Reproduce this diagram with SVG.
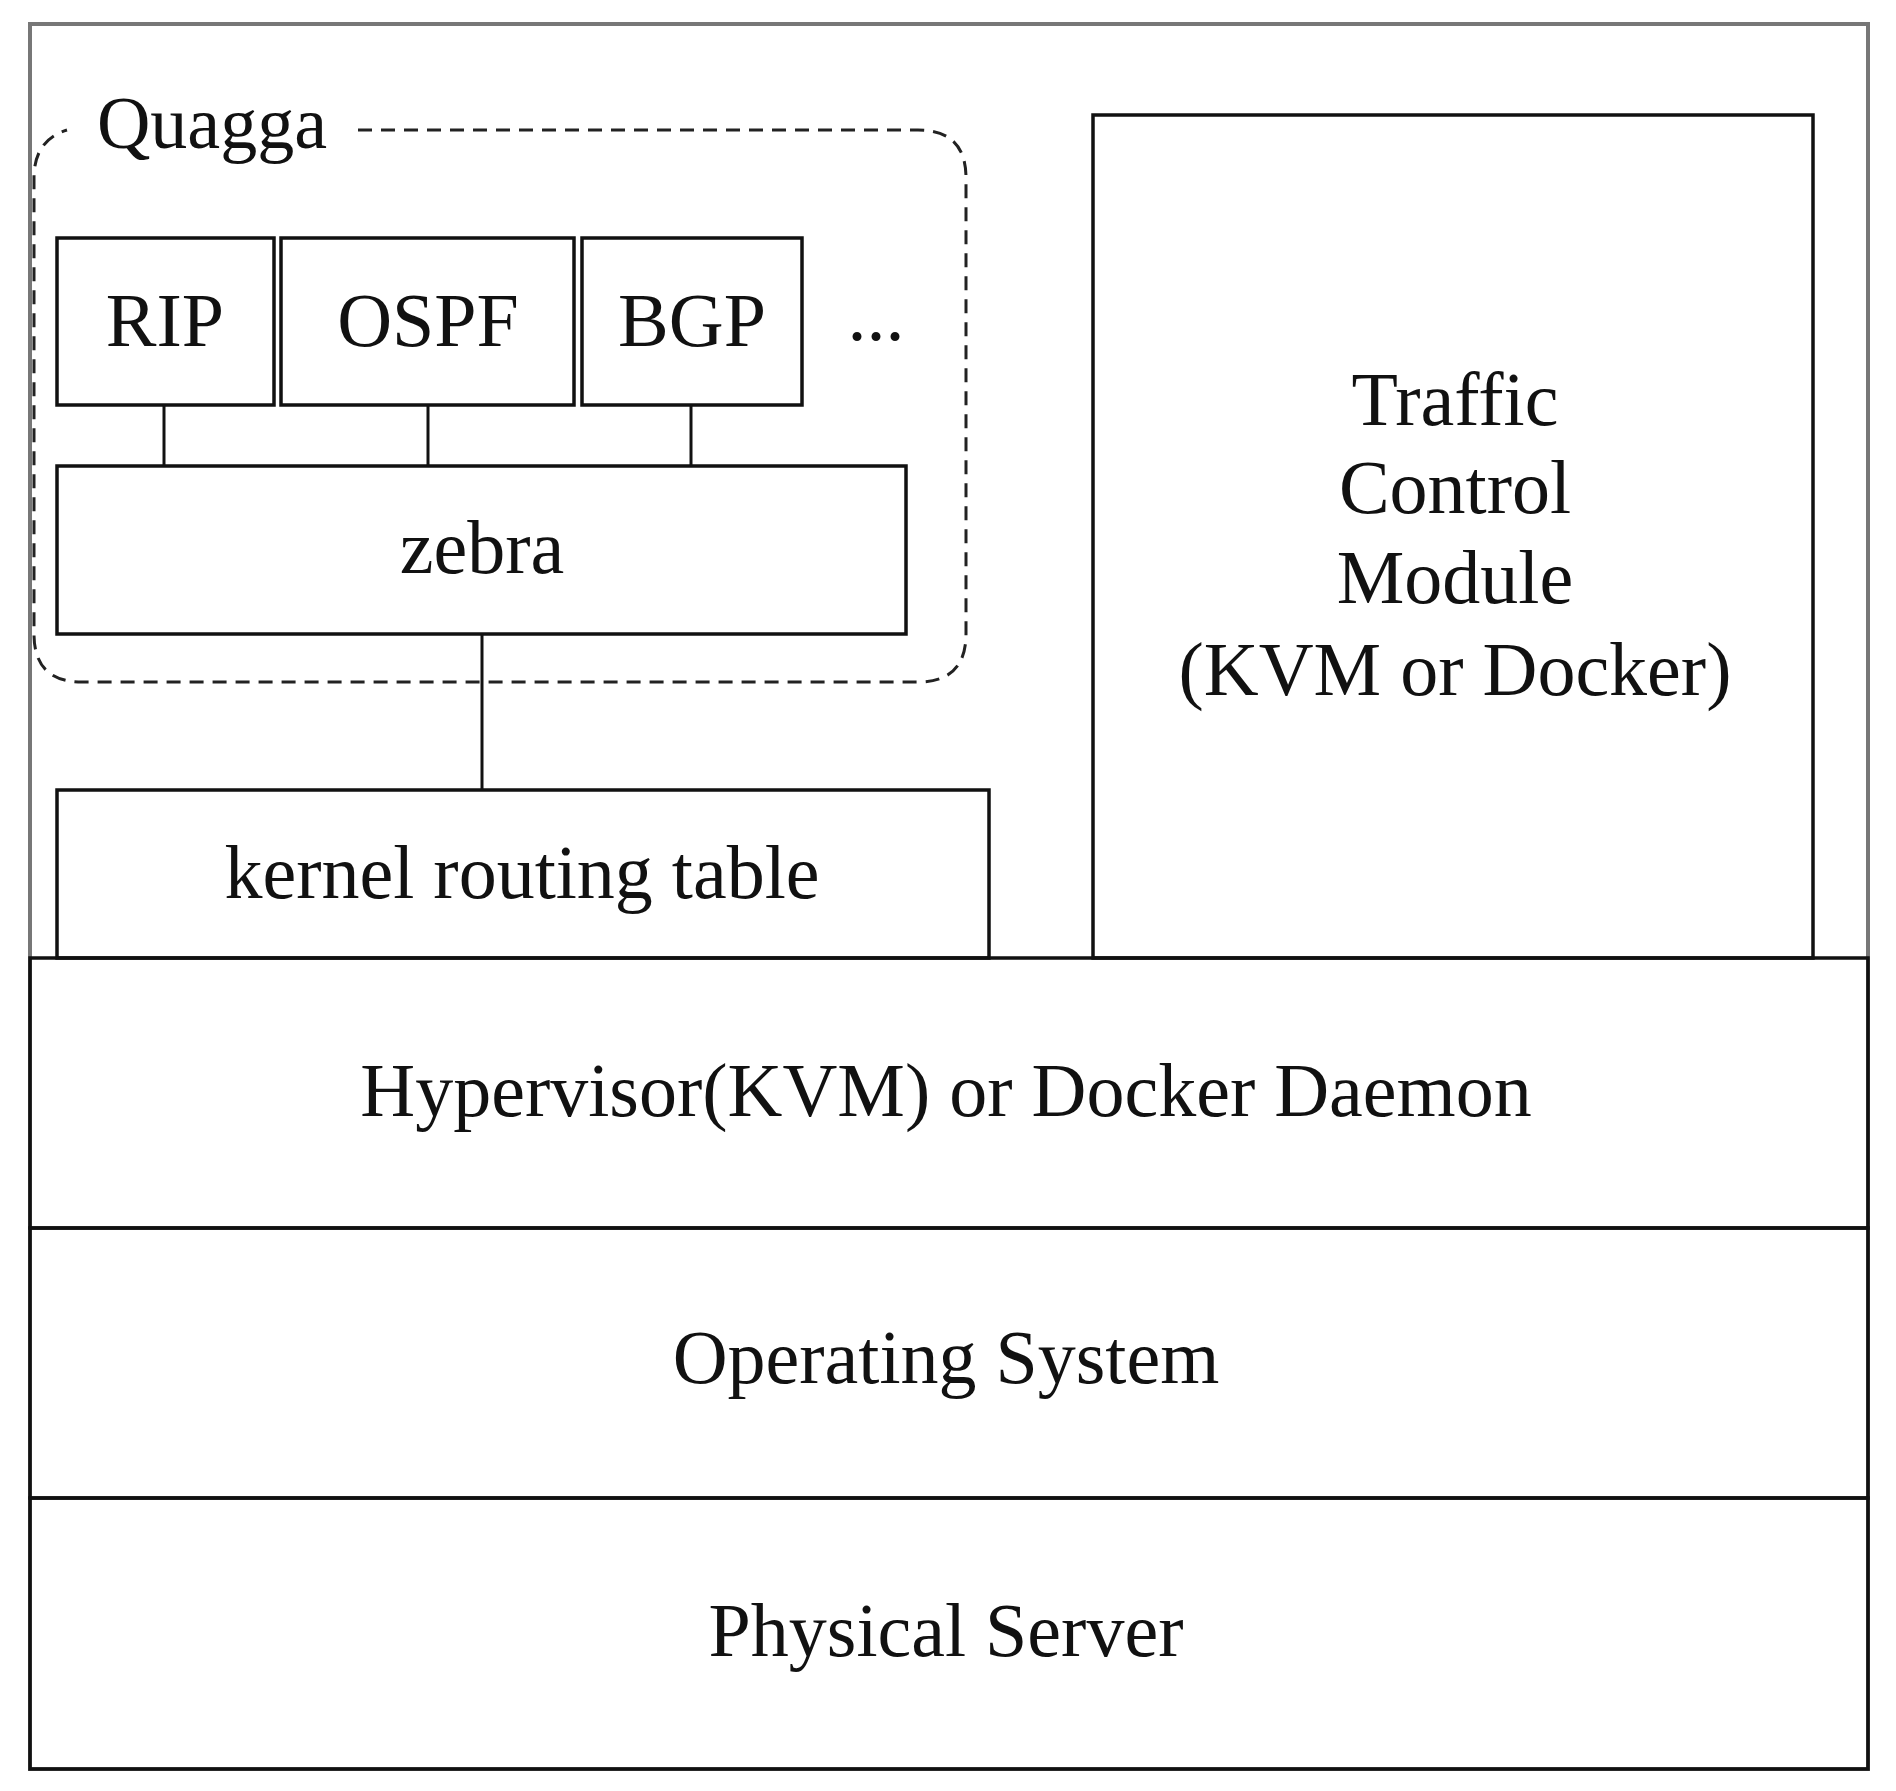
<svg xmlns="http://www.w3.org/2000/svg" width="1896" height="1791" viewBox="0 0 1896 1791">
<style>
.b{fill:none;stroke:#111;stroke-width:3.5}
.t{font-family:"Liberation Serif",serif;font-size:76px;fill:#111;text-anchor:middle}
.c{stroke:#111;stroke-width:3}
</style>
<rect width="1896" height="1791" fill="#fff"/>
<g id="outer"><rect fill="none" stroke="#777" stroke-width="4" x="30" y="24" width="1838" height="1745"/></g>
<g id="quagga">
<path d="M358 130 H918 Q966 130 966 178 V634 Q966 682 918 682 H82 Q34 682 34 634 V178 Q34 140 67 130" fill="none" stroke="#222" stroke-width="3" stroke-dasharray="14,9"/>
<text class="t" x="212" y="148" style="font-size:74px">Quagga</text>
</g>
<g id="rip"><rect class="b" x="57" y="238" width="217" height="167"/><text class="t" x="165" y="346">RIP</text></g>
<g id="ospf"><rect class="b" x="281" y="238" width="293" height="167"/><text class="t" x="428" y="346">OSPF</text></g>
<g id="bgp"><rect class="b" x="582" y="238" width="220" height="167"/><text class="t" x="692" y="346">BGP</text></g>
<g id="dots"><text class="t" x="876" y="340">...</text></g>
<g id="zebra"><rect class="b" x="57" y="466" width="849" height="168"/><text class="t" x="482" y="573">zebra</text></g>
<g id="kernel"><rect class="b" x="57" y="790" width="932" height="168"/><text class="t" x="522" y="898">kernel routing table</text></g>
<g id="traffic"><rect class="b" x="1093" y="115" width="720" height="843"/>
<text class="t" x="1455" y="425">Traffic</text><text class="t" x="1455" y="513">Control</text><text class="t" x="1455" y="603">Module</text><text class="t" x="1455" y="695">(KVM or Docker)</text></g>
<g id="hypervisor"><rect class="b" x="30" y="958" width="1838" height="270"/><text class="t" x="946" y="1116">Hypervisor(KVM) or Docker Daemon</text></g>
<g id="os"><rect class="b" x="30" y="1228" width="1838" height="270"/><text class="t" x="946" y="1383">Operating System</text></g>
<g id="physical"><rect class="b" x="30" y="1498" width="1838" height="271"/><text class="t" x="946" y="1656">Physical Server</text></g>
<g id="connectors">
<line class="c" x1="164" y1="405" x2="164" y2="466"/>
<line class="c" x1="428" y1="405" x2="428" y2="466"/>
<line class="c" x1="691" y1="405" x2="691" y2="466"/>
<line class="c" x1="482" y1="634" x2="482" y2="790"/>
</g>
</svg>
